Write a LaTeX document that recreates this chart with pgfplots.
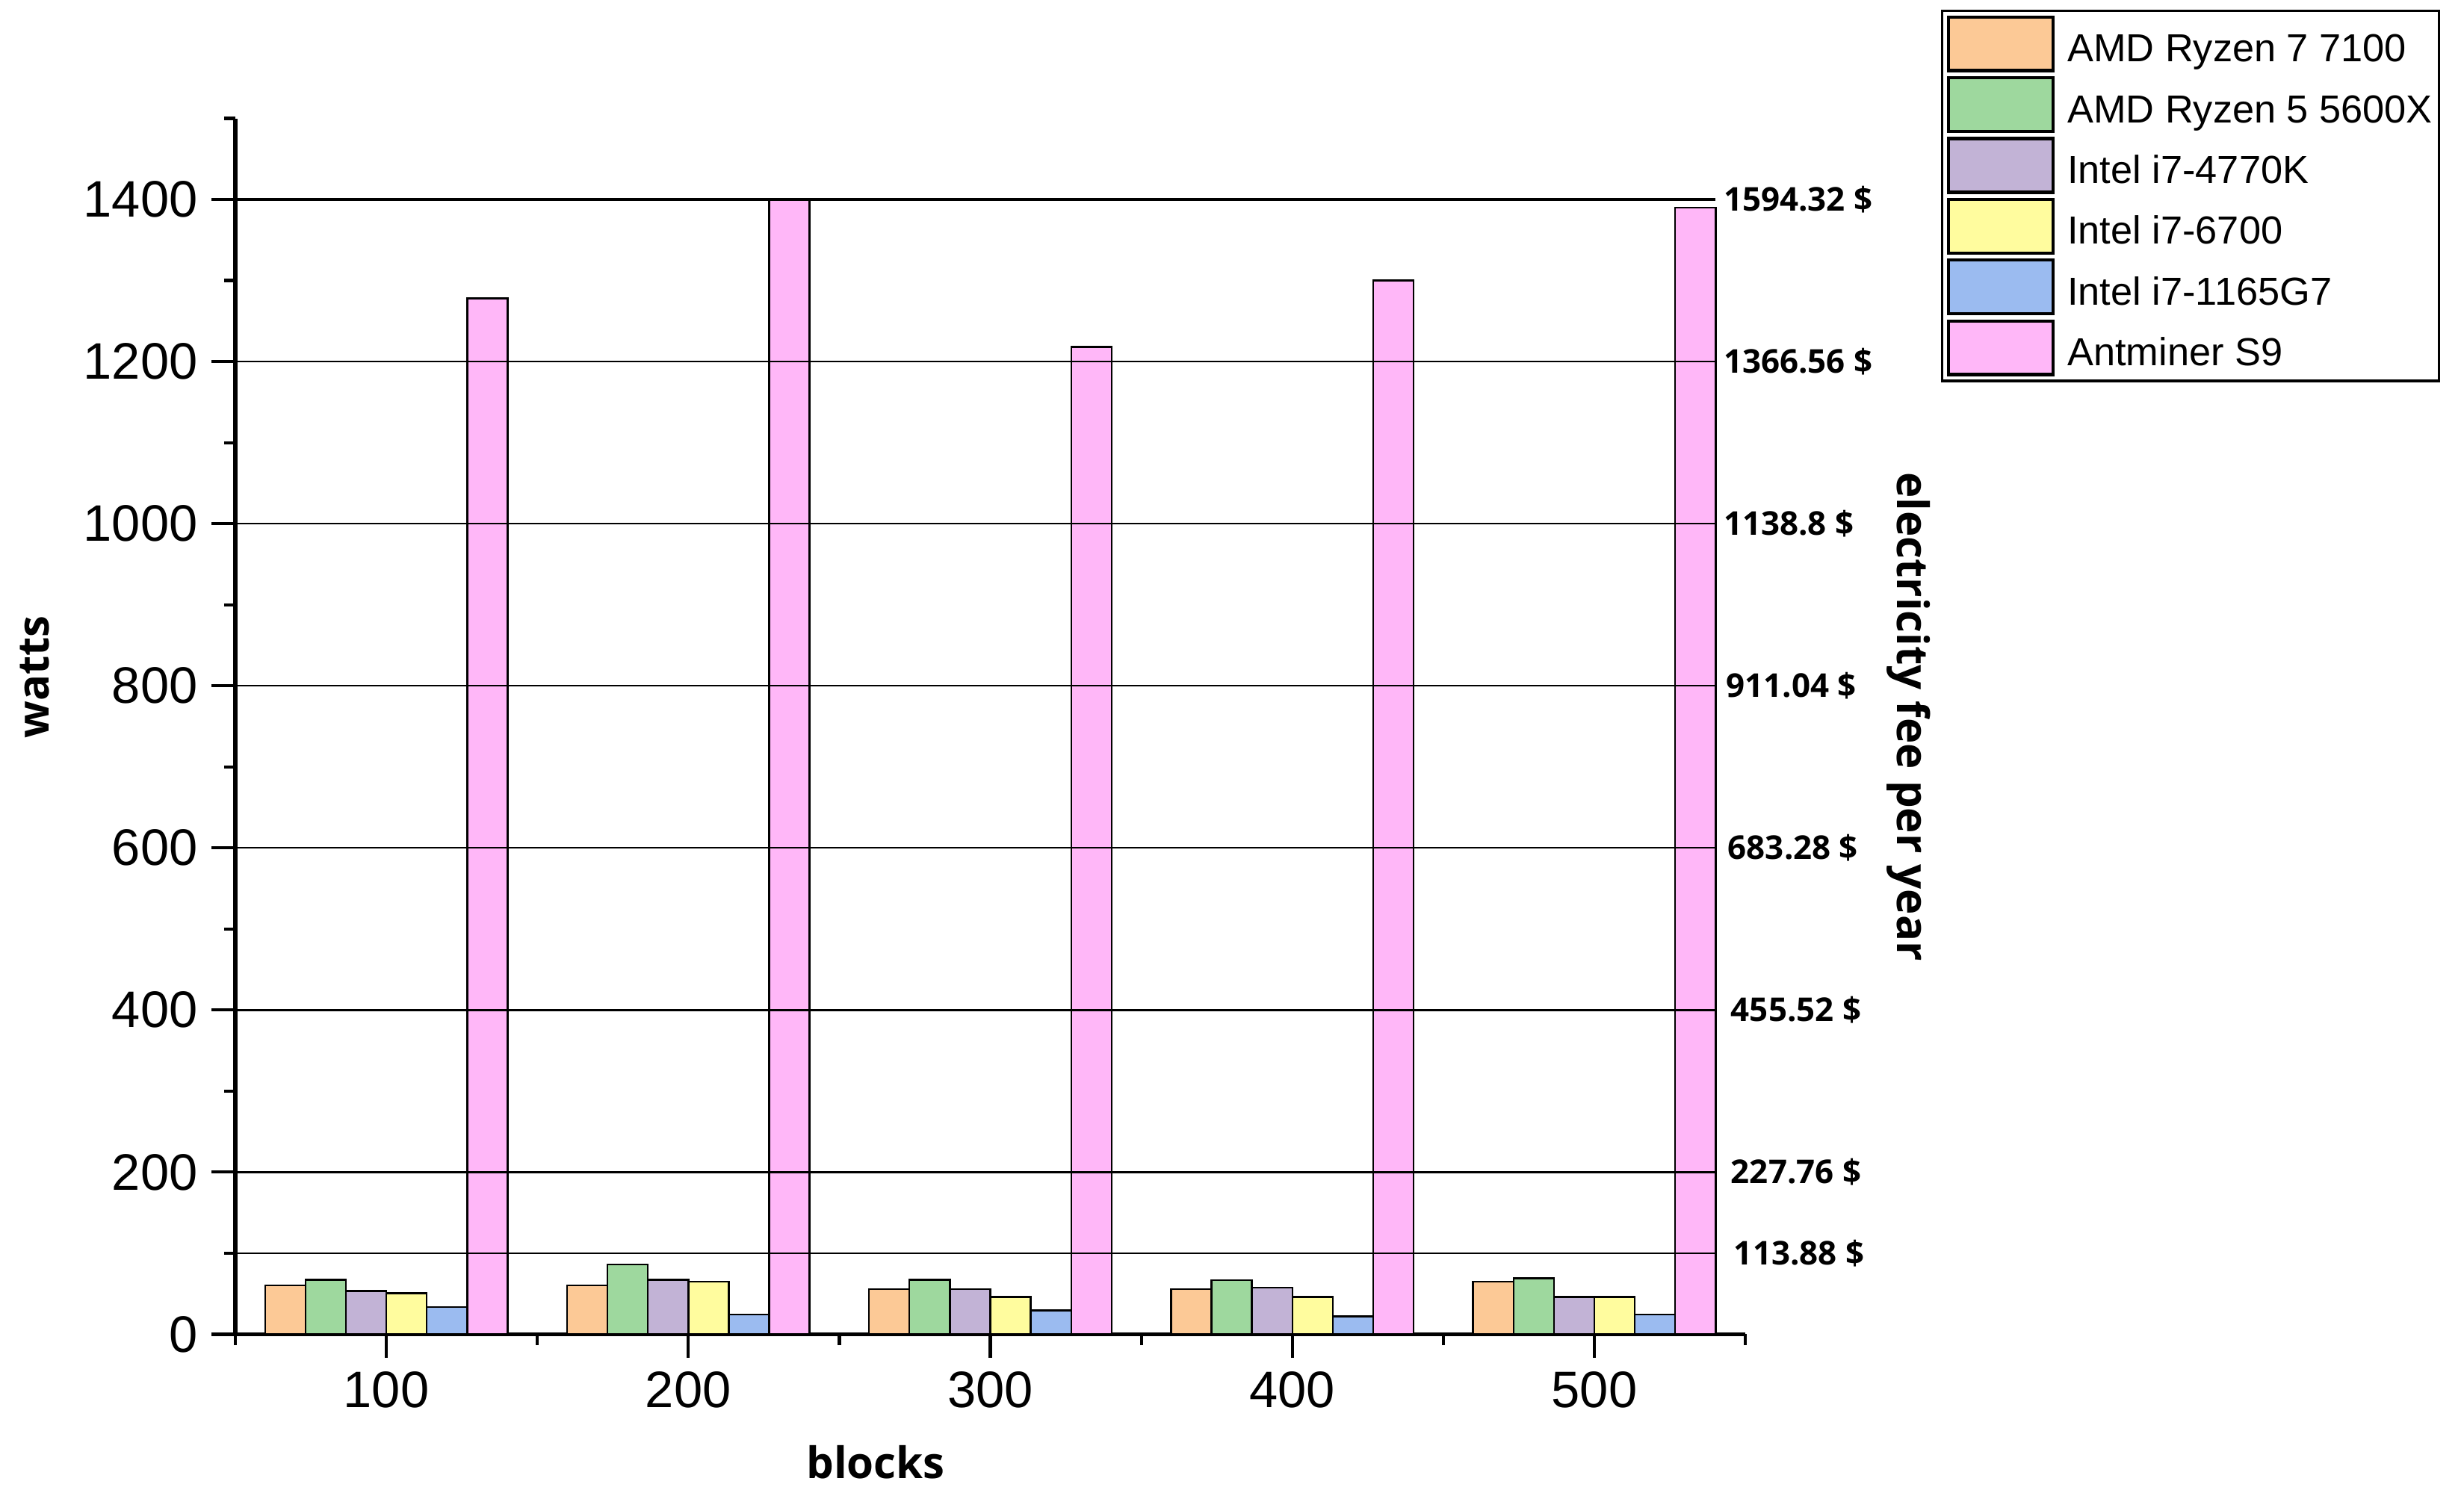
\documentclass[border=0pt]{standalone}
\usepackage{fontspec}
\setmainfont{Liberation Sans}
\newfontfamily\labfont{Open Sans}
\usepackage{pgfplots}
\pgfplotsset{compat=1.18}

\definecolor{cOrange}{HTML}{FCC996}
\definecolor{cGreen}{HTML}{9ED89E}
\definecolor{cPurple}{HTML}{C2B3D6}
\definecolor{cYellow}{HTML}{FFFC9E}
\definecolor{cBlue}{HTML}{9BBBF0}
\definecolor{cPink}{HTML}{FFB7F8}

\pgfplotsset{
  mybar/.style={fill=#1, draw=black, line width=0.45pt,
    legend image code/.code={\draw[fill=#1, draw=black, line width=0.8pt] (0pt,-2.25pt) rectangle (26.4pt,11.35pt);}},
}

\begin{document}
\begin{tikzpicture}
\begin{axis}[
  name=main,
  scale only axis, width=382.4pt, height=308pt,
  xmin=50, xmax=550, ymin=0, ymax=1500,
  axis x line*=bottom, axis y line*=left,
  axis line style={black, line width=1.1pt, -},
  xtick={100,200,300,400,500},
  minor xtick={50,150,250,350,450,550},
  ytick={0,200,400,600,800,1000,1200,1400},
  minor ytick={100,300,500,700,900,1100,1300,1500},
  tick align=outside,
  major tick length=6pt, minor tick length=2.8pt,
  every tick/.style={black, line width=0.8pt},
  ticklabel style={font=\fontsize{13}{15}\selectfont},
  /pgf/number format/assume math mode=true,
  /pgf/number format/1000 sep={},
  ybar=0pt, bar width=10.24pt,
  clip=false,
  legend style={at={(rel axis cs:1.1297,1.0896)}, anchor=north west,
    draw=black, line width=0.6pt, inner xsep=1.2pt, inner ysep=1.2pt,
    row sep=1pt, column sep=2.8pt,
    font=\fontsize{9.9}{11}\selectfont,
    nodes={inner xsep=0.5pt, inner ysep=0pt}, cells={anchor=base west}},
]
\addplot[mybar=cOrange] coordinates {(100,60.4) (200,60.4) (300,55.4) (400,55.4) (500,64.7)};
\addplot[mybar=cGreen]  coordinates {(100,67.2) (200,85.8) (300,67.2) (400,66.6) (500,69.0)};
\addplot[mybar=cPurple] coordinates {(100,53.3) (200,67.2) (300,55.4) (400,57.3) (500,46.1)};
\addplot[mybar=cYellow] coordinates {(100,50.5) (200,64.7) (300,46.1) (400,46.1) (500,46.1)};
\addplot[mybar=cBlue]   coordinates {(100,33.4) (200,24.1) (300,29.4) (400,22.0) (500,24.1)};
\addplot[mybar=cPink]   coordinates {(100,1278) (200,1400) (300,1218) (400,1300) (500,1390)};
\legend{AMD Ryzen 7 7100, AMD Ryzen 5 5600X, Intel i7-4770K, Intel i7-6700, Intel i7-1165G7, Antminer S9}

\pgfplotsinvokeforeach{100,200,400,600,800,1000,1200}{
  \draw[black, line width=0.45pt] (axis cs:50,#1) -- (axis cs:540.2,#1);
}
\draw[black, line width=0.8pt] (axis cs:50,1400) -- (axis cs:540.2,1400);

\begin{scope}[every node/.style={anchor=west, font={\labfont\bfseries\fontsize{8.3}{9}\selectfont}, text height=5.9pt, text depth=0pt, inner sep=0pt}]
\node at (axis cs:542.6,1400) {1594.32 \$};
\node at (axis cs:542.6,1200) {1366.56 \$};
\node at (axis cs:542.6,1000) {1138.8 \$};
\node at (axis cs:543.5,800) {911.04 \$};
\node at (axis cs:544,600) {683.28 \$};
\node at (axis cs:545,400) {455.52 \$};
\node at (axis cs:545,200) {227.76 \$};
\node at (axis cs:546,100) {113.88 \$};
\end{scope}

\node[font={\labfont\bfseries\fontsize{11}{13}\selectfont}, rotate=90] at (axis cs:-16.5,811) {watts};
\node[font={\labfont\bfseries\fontsize{11}{13}\selectfont}] at (axis cs:262,-158) {blocks};
\node[font={\labfont\bfseries\fontsize{11}{13}\selectfont}, rotate=-90] at (axis cs:604,762) {electricity fee per year};
\end{axis}
\pgfresetboundingbox
\path (main.south west) ++(-59.6pt,-41.7pt) rectangle ++(624pt,379.7pt);
\end{tikzpicture}
\end{document}
